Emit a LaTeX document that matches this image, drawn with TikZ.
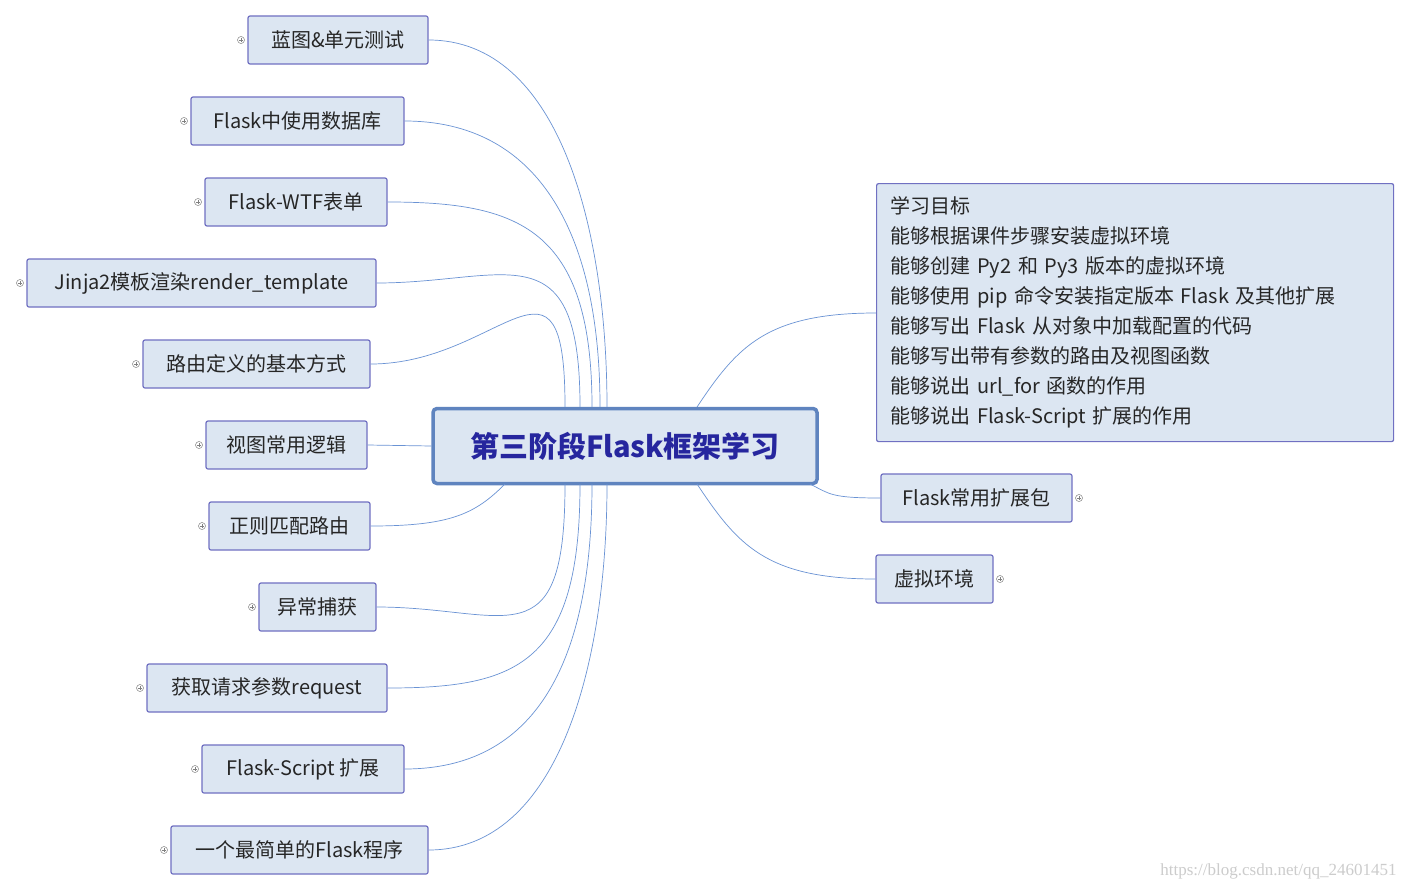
\documentclass[tikz,border=0pt]{standalone}
\usepackage{fontspec}
\usetikzlibrary{calc}
\setmainfont{Noto Sans CJK SC}
\newfontfamily\wm{Liberation Serif}
\begin{document}
\begin{tikzpicture}[x=1pt,y=-1pt,
 leaf/.style={draw=blue!40!gray!80, line width=1.2pt, fill=bfill, rounded corners=2pt, minimum height=48pt, inner sep=0pt, font=\fontsize{20}{24}\selectfont, text=black!85},
 lk/.style={draw=lcol, line width=0.7pt},
 mk/.style={circle, draw=gray, fill=white, minimum size=7pt, inner sep=0pt, line width=0.5pt}]
\definecolor{bfill}{HTML}{DCE6F2}
\definecolor{lcol}{HTML}{6A93D4}
\useasboundingbox (0,0) rectangle (1410,891);
\fill[white] (0,0) rectangle (1410,891);
\node[draw=lcol!90!black, line width=3.5pt, fill=bfill, rounded corners=4pt, minimum width=384pt, minimum height=75pt, font=\fontsize{29}{34}\selectfont\bfseries, text=blue!55!black!85] (c) at (625,446) {第三阶段Flask框架学习};
\foreach \n/\xa/\xb/\y/\t in {
 a/248/428/40/蓝图\&单元测试,
 b/191/404/121/Flask中使用数据库,
 d/205/387/202/Flask-WTF表单,
 e/27/376/283/Jinja2模板渲染render\_template,
 f/143/370/364/路由定义的基本方式,
 g/206/367/445/视图常用逻辑,
 h/209/370/526/正则匹配路由,
 i/259/376/607/异常捕获,
 j/147/387/688/获取请求参数request,
 k/202/404/769/Flask-Script 扩展,
 l/171/428/850/一个最简单的Flask程序}{
 \node[leaf, minimum width={\xb-\xa}] (\n) at ({(\xa+\xb)/2},\y) {\t};
 \node[mk] (m\n) at ({\xa-7},\y) {};
 \draw[gray,line width=0.5pt] ($(m\n)+(-2.2,0)$) -- ($(m\n)+(2.2,0)$) ($(m\n)+(0,-2.2)$) -- ($(m\n)+(0,2.2)$);
}
\foreach \n/\tx in {a/607,b/600,d/592,e/580,f/565}{
 \coordinate (t\n) at (\tx,407);
 \draw[lk] (\n.east) .. controls +(130,0) and +(0,-180) .. (t\n);
}
\foreach \n/\tx in {i/565,j/580,k/592,l/607}{
 \coordinate (t\n) at (\tx,484);
 \draw[lk] (\n.east) .. controls +(130,0) and +(0,180) .. (t\n);
}
\coordinate (th) at (505,484);
\draw[lk] (h.east) .. controls +(80,0) and +(-30,30) .. (th);
\draw[lk] (g.east) -- (c.west);
\node[leaf, minimum width=517pt, minimum height=258pt, align=left, font=\fontsize{20}{30}\selectfont, inner xsep=14pt, anchor=north west, text width=489pt] (r) at (876,183) {学习目标\\能够根据课件步骤安装虚拟环境\\能够创建 Py2 和 Py3 版本的虚拟环境\\能够使用 pip 命令安装指定版本 Flask 及其他扩展\\能够写出 Flask 从对象中加载配置的代码\\能够写出带有参数的路由及视图函数\\能够说出 url\_for 函数的作用\\能够说出 Flask-Script 扩展的作用};
\node[leaf, minimum width=191pt] (s) at (976.5,498) {Flask常用扩展包};
\node[leaf, minimum width=117pt] (v) at (934.5,579) {虚拟环境};
\foreach \n/\x/\y in {ms/1079/498,mv/1000/579}{
 \node[mk] (\n) at (\x,\y) {};
 \draw[gray,line width=0.5pt] (\x-2.2,\y) -- (\x+2.2,\y) (\x,\y-2.2) -- (\x,\y+2.2);
}
\coordinate (tr) at (697,407);
\coordinate (ts) at (810,484);
\coordinate (tv) at (697,484);
\draw[lk] (r.west |- 0,313) .. controls +(-110,0) and +(40,-60) .. (tr);
\draw[lk] (s.west) .. controls +(-50,0) and +(20,10) .. (ts);
\draw[lk] (v.west) .. controls +(-110,0) and +(40,60) .. (tv);
\node[font=\wm\fontsize{17}{20}\selectfont, text=black!20, anchor=east] (w) at (1400,871) {https://blog.csdn.net/qq\_24601451};
\end{tikzpicture}
\end{document}
